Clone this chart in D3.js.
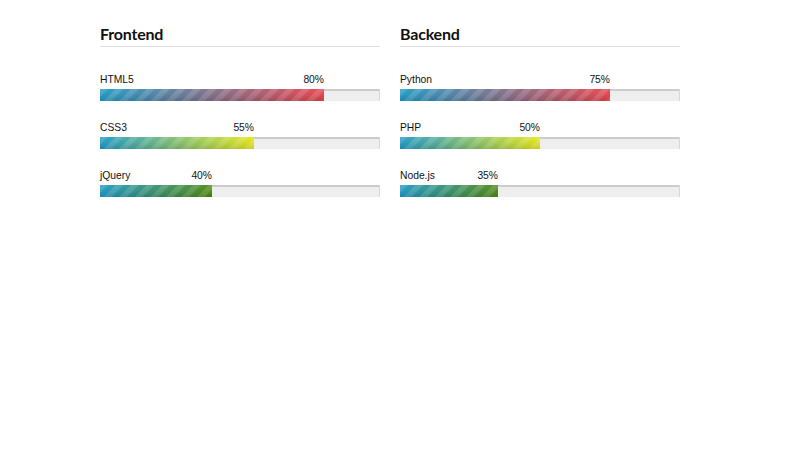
<!DOCTYPE html>
<html>
<head>
<meta charset="utf-8">
<script src="https://cdn.jsdelivr.net/npm/d3@7"></script>
<style>
  html, body { margin: 0; padding: 0; background: #fff; }
  svg { display: block; }
</style>
</head>
<body>
<svg id="chart" width="800" height="450"></svg>
<script>
const groupTitles = ["Frontend", "Backend"];
const frontendSkills = ["HTML5", "CSS3", "jQuery"];
const frontendValues = [80, 55, 40];
const backendSkills = ["Python", "PHP", "Node.js"];
const backendValues = [75, 50, 35];
const barEndColors = ["#e8414a", "#e6e815", "#4e8a10"];
const barStartColor = "#1d9ac6";

const svg = d3.select("#chart");
const defs = svg.append("defs");

// stripe pattern
const pat = defs.append("pattern")
  .attr("id", "stripes")
  .attr("patternUnits", "userSpaceOnUse")
  .attr("width", 11).attr("height", 11)
  .attr("patternTransform", "rotate(45)");
pat.append("rect").attr("width", 5.5).attr("height", 11).attr("fill", "rgba(255,255,255,0.15)");

// vertical shading overlay
const shade = defs.append("linearGradient").attr("id", "shade")
  .attr("x1", 0).attr("y1", 0).attr("x2", 0).attr("y2", 1);
shade.append("stop").attr("offset", "0%").attr("stop-color", "#fff").attr("stop-opacity", 0.06);
shade.append("stop").attr("offset", "100%").attr("stop-color", "#000").attr("stop-opacity", 0.12);

barEndColors.forEach((c, i) => {
  const g = defs.append("linearGradient").attr("id", "grad" + i)
    .attr("x1", 0).attr("y1", 0).attr("x2", 1).attr("y2", 0);
  g.append("stop").attr("offset", "0%").attr("stop-color", barStartColor);
  g.append("stop").attr("offset", "100%").attr("stop-color", c);
});

const groups = [
  { title: groupTitles[0], skills: frontendSkills, values: frontendValues },
  { title: groupTitles[1], skills: backendSkills, values: backendValues }
];

const colX = d3.scaleBand().domain(d3.range(groups.length)).range([100, 680]).paddingInner(20 / 300);
const colW = colX.bandwidth();
const x = d3.scaleLinear().domain([0, 100]).range([0, colW]);
const rowY = d3.scalePoint().domain(d3.range(3)).range([89, 185]);
const barH = 12;

groups.forEach((grp, gi) => {
  const g = svg.append("g").attr("transform", `translate(${colX(gi)},0)`);
  g.append("text")
    .attr("x", 0).attr("y", 40)
    .attr("font-family", "Lato, 'Open Sans', sans-serif")
    .attr("font-weight", "bold")
    .attr("font-size", 16)
    .attr("letter-spacing", -0.2)
    .attr("fill", "#111")
    .text(grp.title);
  g.append("line")
    .attr("x1", 0).attr("x2", colW)
    .attr("y1", 46.5).attr("y2", 46.5)
    .attr("stroke", "#dddddd").attr("stroke-width", 1);

  grp.skills.forEach((s, i) => {
    const y = rowY(i);
    const v = grp.values[i];
    const row = g.append("g").attr("transform", `translate(0,${y})`);
    // track
    row.append("rect").attr("x", 0).attr("y", 0).attr("width", colW).attr("height", barH).attr("fill", "#eeeeee");
    row.append("rect").attr("x", 0).attr("y", 0).attr("width", colW).attr("height", 2).attr("fill", "#cccccc");
    row.append("rect").attr("x", colW - 1).attr("y", 0).attr("width", 1).attr("height", barH).attr("fill", "#d8d8d8");
    // fill
    row.append("rect").attr("x", 0).attr("y", 0).attr("width", x(v)).attr("height", barH)
      .attr("fill", `url(#grad${i})`);
    row.append("rect").attr("x", 0).attr("y", 0).attr("width", x(v)).attr("height", barH)
      .attr("fill", "url(#stripes)");
    row.append("rect").attr("x", 0).attr("y", 0).attr("width", x(v)).attr("height", barH)
      .attr("fill", "url(#shade)");
    // labels
    row.append("text").attr("x", 0).attr("y", -6)
      .attr("font-family", "'Liberation Sans', Arial, sans-serif")
      .attr("font-size", 10.3).attr("fill", "#111")
      .text(s);
    row.append("text").attr("x", x(v)).attr("y", -6)
      .attr("text-anchor", "end")
      .attr("font-family", "'Liberation Sans', Arial, sans-serif")
      .attr("font-size", 10.3).attr("fill", "#111")
      .text(v + "%");
  });
});
</script>
</body>
</html>
